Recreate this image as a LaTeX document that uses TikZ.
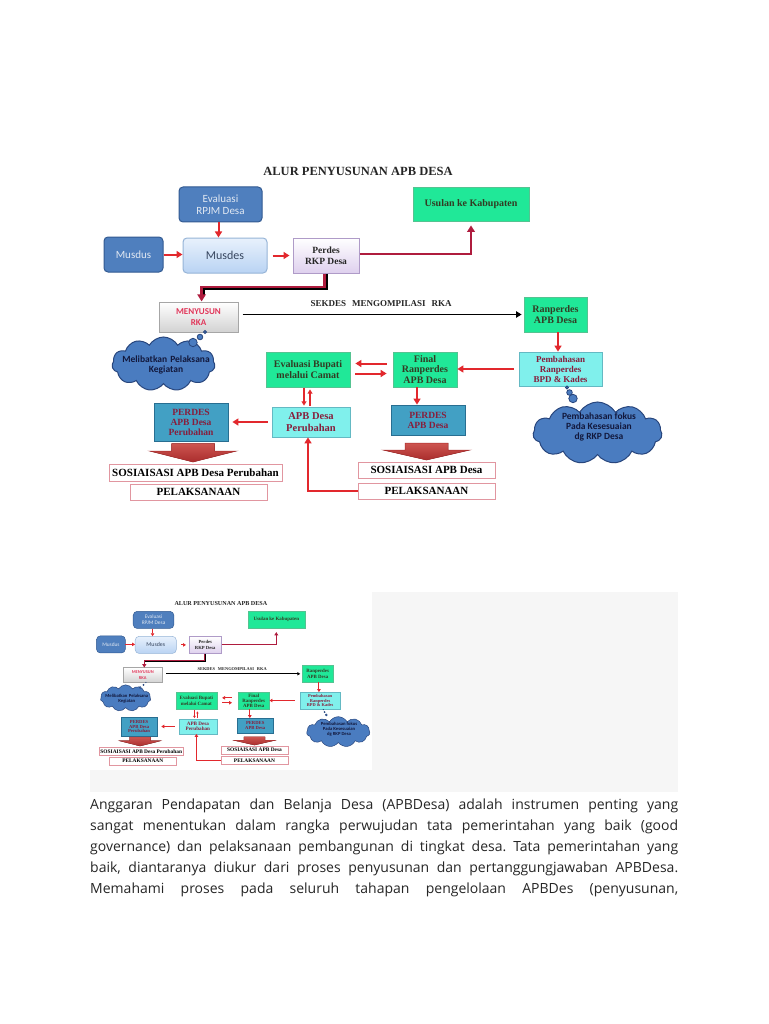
\documentclass[tikz,border=0pt]{standalone}
\usepackage{fontspec}
\setmainfont{Liberation Serif}
\newfontfamily\calf{Carlito}
\newfontfamily\osans{Open Sans}
\usetikzlibrary{arrows.meta,shapes.symbols}
\frenchspacing
\definecolor{steel}{RGB}{79,127,190}
\definecolor{steeld}{RGB}{50,90,145}
\definecolor{ltext}{RGB}{225,232,242}
\definecolor{mtop}{RGB}{232,241,252}
\definecolor{mbot}{RGB}{185,211,243}
\definecolor{mdraw}{RGB}{150,180,215}
\definecolor{mtext}{RGB}{55,70,95}
\definecolor{lav}{RGB}{222,208,238}
\definecolor{lavd}{RGB}{175,155,200}
\definecolor{pinkt}{RGB}{225,55,90}
\definecolor{mgreen}{RGB}{32,232,152}
\definecolor{mgreend}{RGB}{85,195,145}
\definecolor{gtext}{RGB}{50,60,35}
\definecolor{lcyan}{RGB}{128,240,236}
\definecolor{lcyand}{RGB}{100,185,195}
\definecolor{teal2}{RGB}{66,160,196}
\definecolor{teald}{RGB}{40,110,145}
\definecolor{maroon2}{RGB}{135,30,60}
\definecolor{redc}{RGB}{226,40,45}
\definecolor{crim}{RGB}{175,28,62}
\definecolor{navy2}{RGB}{18,24,60}
\definecolor{cloudb}{RGB}{74,124,192}
\definecolor{cloudd}{RGB}{40,70,125}
\definecolor{pinkb}{RGB}{225,150,160}
\definecolor{barrt}{RGB}{205,85,80}
\definecolor{barrb}{RGB}{170,45,45}
\definecolor{bodyt}{RGB}{38,38,38}
\definecolor{panel}{RGB}{246,246,246}
\def\dsc{1}
\tikzset{
  every node/.style={inner sep=0pt, align=center},
  lwd/.style={line width={\dsc*#1pt}},
  titlet/.style={font=\bfseries\fontsize{12.5}{13}\selectfont, text=black!85},
  dbox/.style={rounded corners=4pt, fill=steel, draw=steeld, lwd=1, font=\calf\fontsize{11}{12}\selectfont, text=ltext},
  musdesbox/.style={rounded corners=4pt, top color=mtop, bottom color=mbot, draw=mdraw, lwd=1, font=\calf\fontsize{12}{13}\selectfont, text=mtext},
  lavbox/.style={top color=white, bottom color=lav, draw=lavd, lwd=1, font=\bfseries\fontsize{9.5}{10.5}\selectfont, text=black!85},
  graybox/.style={top color=white, bottom color=gray!35, draw=gray!70, lwd=1, font=\calf\bfseries\fontsize{9}{11}\selectfont, text=pinkt},
  gbox/.style={fill=mgreen, draw=mgreend, lwd=0.8, font=\bfseries\fontsize{10}{11}\selectfont, text=gtext},
  cbox/.style={fill=lcyan, draw=lcyand, lwd=0.8, font=\bfseries\fontsize{9}{10}\selectfont, text=maroon2},
  tbox/.style={fill=teal2, draw=teald, lwd=0.8, font=\bfseries\fontsize{9.5}{10}\selectfont, text=maroon2},
  wbox/.style={fill=white, draw=pinkb, lwd=0.8, font=\bfseries\fontsize{11}{12}\selectfont, text=black},
  lbl/.style={font=\bfseries\fontsize{9}{10}\selectfont, text=black!85},
  cloudn/.style={cloud, cloud puffs=11, cloud puff arc=120, aspect=2, fill=cloudb, draw=cloudd, lwd=1},
  cloudt/.style={font=\calf\bfseries\fontsize{9.5}{10}\selectfont, text=navy2},
  bub/.style={fill=cloudb, draw=cloudd, lwd=0.8},
  rarr/.style={draw=redc, lwd=2, -{Triangle[length=0pt 3, width=0pt 3.5]}},
  tarr/.style={draw=redc, lwd=1.2, -{Triangle[length=0pt 3.5, width=0pt 4]}},
  carr/.style={draw=crim, lwd=2.2, -{Triangle[length=0pt 3, width=0pt 3.5]}},
  karr/.style={draw=black, lwd=1.6, -{Triangle[length=0pt 3.5, width=0pt 4]}},
  blockarr/.style={top color=barrt, bottom color=barrb, draw=barrb, lwd=0.5},
  bodyline/.style={anchor=base west, font=\osans\fontsize{14}{21}\selectfont, text=bodyt, align=left},
}
\newcommand\drawdiagram{%
  \node[titlet] (title) at (358,171) {ALUR PENYUSUNAN APB DESA};
  \node[dbox, minimum width=83, minimum height=35] (evrpjm) at (220.5,204.5) {Evaluasi\\RPJM Desa};
  \node[dbox, minimum width=59, minimum height=35] (musdus) at (133.5,254.5) {Musdus};
  \node[musdesbox, minimum width=84, minimum height=35] (musdes) at (225,255.5) {Musdes};
  \node[lavbox, minimum width=66, minimum height=35] (perdesrkp) at (326,255.5) {Perdes\\RKP Desa};
  \node[gbox, minimum width=116, minimum height=34] (usulan) at (471,204) {Usulan ke Kabupaten};
  \node[graybox, minimum width=79, minimum height=30] (menyusun) at (198.5,317) {MENYUSUN\\RKA};
  \node[gbox, minimum width=63, minimum height=35] (ranperdes) at (555.5,314.5) {Ranperdes\\APB Desa};
  \node[cbox, minimum width=83, minimum height=34] (pembahasan) at (560.5,369) {Pembahasan\\Ranperdes\\BPD \& Kades};
  \node[gbox, minimum width=64, minimum height=35, font=\bfseries\fontsize{10}{10.5}\selectfont] (final) at (425,369.5) {Final\\Ranperdes\\APB Desa};
  \node[gbox, minimum width=84, minimum height=35] (evbupati) at (308,369.5) {Evaluasi Bupati\\melalui Camat};
  \node[tbox, minimum width=74, minimum height=30] (perdesapb) at (428,420) {PERDES\\APB Desa};
  \node[cbox, minimum width=78, minimum height=30, font=\bfseries\fontsize{10.5}{11.5}\selectfont] (apbper) at (311,422) {APB Desa\\Perubahan};
  \node[tbox, minimum width=74, minimum height=38] (perdesper) at (191,422) {PERDES\\APB Desa\\Perubahan};
  \node[wbox, minimum width=137, minimum height=16] (sos) at (426.5,470) {SOSIAISASI APB Desa};
  \node[wbox, minimum width=137, minimum height=16] (pel) at (426.5,491) {PELAKSANAAN};
  \node[wbox, minimum width=173, minimum height=17] (sosper) at (195.5,472.5) {SOSIAISASI APB Desa Perubahan};
  \node[wbox, minimum width=137, minimum height=16] (pelper) at (198.5,492) {PELAKSANAAN};
  % clouds
  \node[cloudn, minimum width=103, minimum height=54] (cloud1) at (163.5,364) {};
  \node[cloudt] (cloud1t) at (166,365) {Melibatkan\hspace{3pt}Pelaksana\\Kegiatan};
  \draw[bub] (205,332) circle ({\dsc*1.5pt});
  \draw[bub] (200,337) circle ({\dsc*2.8pt});
  \draw[bub] (193,342.5) circle ({\dsc*4.2pt});
  \node[cloudn, minimum width=129, minimum height=62] (cloud2) at (597.5,433) {};
  \node[cloudt] (cloud2t) at (599,427) {Pembahasan fokus\\Pada Kesesuaian\\dg RKP Desa};
  \draw[bub] (567,387.5) circle ({\dsc*1.5pt});
  \draw[bub] (569.5,392.5) circle ({\dsc*2.8pt});
  \draw[bub] (573,398.5) circle ({\dsc*4.2pt});
  % connectors
  \draw[rarr] (musdus.east) -- (musdus.east -| musdes.west);
  \draw[rarr] ([xshift=-2pt]evrpjm.south) -- ([xshift=-2pt]evrpjm.south |- musdes.north);
  \draw[rarr, shorten <=5pt, shorten >=3pt] (musdes.east) -- (musdes.east -| perdesrkp.west);
  \draw[carr, shorten >=4pt] ([yshift=1.5pt]perdesrkp.east) -| (usulan.south);
  \draw[black, lwd=3, shorten >=6pt] (perdesrkp.south) -- ++(0,15) -| ([xshift=4.5pt]menyusun.north);
  \draw[carr, lwd=2.4] ([xshift=-1.4pt]perdesrkp.south) -- ++(0,13.6) -| ([xshift=3.1pt]menyusun.north);
  \draw[karr, shorten <=4pt, shorten >=2pt] (menyusun.east |- ranperdes.west) -- (ranperdes.west)
     node[lbl, midway, above=7pt] (sekdes) {SEKDES\hspace{6pt}MENGOMPILASI\hspace{6pt}RKA};
  \draw[rarr] ([xshift=2.5pt]ranperdes.south) -- ([xshift=2.5pt]ranperdes.south |- pembahasan.north);
  \draw[rarr, shorten <=5pt] (pembahasan.west) -- (pembahasan.west -| final.east);
  \draw[rarr, shorten <=6pt, shorten >=5pt] ([yshift=6pt]final.west) -- ([yshift=6pt]final.west -| evbupati.east);
  \draw[rarr, shorten <=5pt, shorten >=6pt] ([yshift=-4pt]evbupati.east) -- ([yshift=-4pt]evbupati.east -| final.west);
  \draw[rarr] ([xshift=-8pt]final.south) -- ([xshift=-8pt]final.south |- perdesapb.north);
  \draw[tarr, shorten <=1pt, shorten >=1pt] ([xshift=-4pt]evbupati.south) -- ([xshift=-4pt]evbupati.south |- apbper.north);
  \draw[tarr, shorten <=1pt, shorten >=2pt] ([xshift=2pt]evbupati.south |- apbper.north) -- ([xshift=2pt]evbupati.south);
  \draw[rarr, shorten <=4pt, shorten >=4pt] (apbper.west) -- (apbper.west -| perdesper.east);
  \draw[rarr] (pel.west) -| ([xshift=-3pt]apbper.south);
  % block arrows
  \filldraw[blockarr] (171.5,443.5) -- (214.5,443.5) -- (214.5,451) -- (236.5,451) -- (193,462) -- (149.5,451) -- (171.5,451) -- cycle;
  \filldraw[blockarr] (405,443) -- (448,443) -- (448,450) -- (470,450) -- (426.5,460) -- (383,450) -- (405,450) -- cycle;
}
\begin{document}
\begin{tikzpicture}[x=1pt,y=-1pt]
  \useasboundingbox (0,0) rectangle (768,1024);
  \fill[white] (0,0) rectangle (768,1024);
  \drawdiagram
  % second, small copy of the picture
  \fill[panel] (90,592) rectangle (678,792);
  \fill[white] (90,592) rectangle (372,770);
  \def\dsc{0.49}
  \begin{scope}[shift={(45.5,519.7)}, scale=0.49, transform shape, name prefix=s-]
    \drawdiagram
  \end{scope}
  \def\dsc{1}
  % body text
  \node[bodyline] (l1) at (90,809) {\makebox[588pt][s]{Anggaran Pendapatan dan Belanja Desa (APBDesa) adalah instrumen penting yang}};
  \node[bodyline] (l2) at (90,830) {\makebox[588pt][s]{sangat menentukan dalam rangka perwujudan tata pemerintahan yang baik (good}};
  \node[bodyline] (l3) at (90,851) {\makebox[588pt][s]{governance) dan pelaksanaan pembangunan di tingkat desa. Tata pemerintahan yang}};
  \node[bodyline] (l4) at (90,872) {\makebox[588pt][s]{baik, diantaranya diukur dari proses penyusunan dan pertanggungjawaban APBDesa.}};
  \node[bodyline] (l5) at (90,893) {\makebox[588pt][s]{Memahami proses pada seluruh tahapan pengelolaan APBDes (penyusunan,}};
\end{tikzpicture}
\end{document}
